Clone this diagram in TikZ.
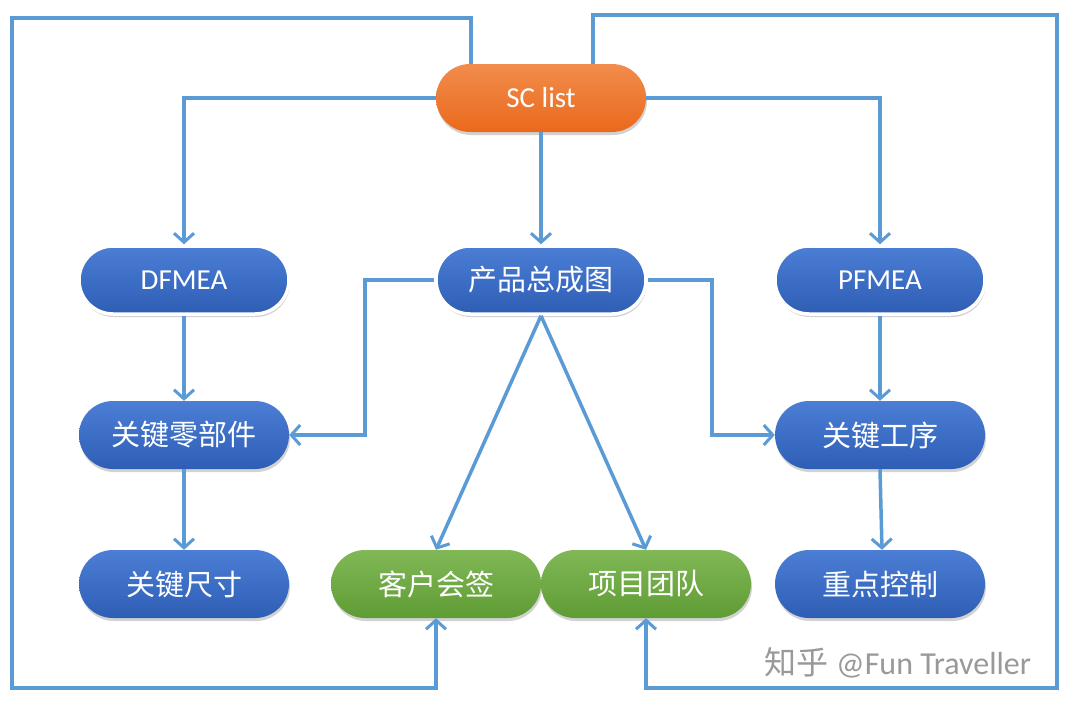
\documentclass[tikz,border=0pt]{standalone}
\usepackage{fontspec}
\setmainfont{Carlito}
\newfontfamily\cjk{Noto Sans CJK SC}
\usetikzlibrary{arrows.meta,shadows,calc}
\definecolor{lineblue}{RGB}{91,155,213}
\definecolor{blueT}{RGB}{76,126,214}
\definecolor{blueB}{RGB}{46,94,180}
\definecolor{orT}{RGB}{242,140,76}
\definecolor{orB}{RGB}{234,105,28}
\definecolor{grT}{RGB}{128,184,86}
\definecolor{grB}{RGB}{95,156,52}
\begin{document}
\begin{tikzpicture}[x=1pt,y=-1pt,
  pill/.style={rounded corners=34pt, minimum width=210pt, minimum height=68pt,
    text=white, inner sep=0pt, font=\fontsize{29}{33}\selectfont,
    drop shadow={opacity=0.35,shadow xshift=1pt,shadow yshift=-3pt}},
  bluepill/.style={pill, top color=blueT, bottom color=blueB},
  glow/.style={draw=white, line width=3.5pt},
  orpill/.style={pill, top color=orT, bottom color=orB},
  grpill/.style={pill, top color=grT, bottom color=grB},
  conn/.style={draw=lineblue, line width=3.5pt},
  arr/.style={conn, -{Straight Barb[length=9pt,width=20pt,line width=3pt]}}
]
\path[use as bounding box] (0,0) rectangle (1074,710);
\fill[white] (0,0) rectangle (1074,710);

\node[orpill] (sc) at (541,98) {SC list};
\node[bluepill,glow] (dfmea) at (184,280) {DFMEA};
\node[bluepill,glow] (asm) at (541,280) {\cjk 产品总成图};
\node[bluepill,glow] (pfmea) at (880,280) {PFMEA};
\node[bluepill] (part) at (184,435) {\cjk 关键零部件};
\node[bluepill] (proc) at (880,435) {\cjk 关键工序};
\node[bluepill] (dim) at (184,584) {\cjk 关键尺寸};
\node[grpill] (cust) at (436,584) {\cjk 客户会签};
\node[grpill] (team) at (646,584) {\cjk 项目团队};
\node[bluepill] (ctrl) at (880,584) {\cjk 重点控制};

\coordinate (lt1) at (471,18);
\coordinate (lt2) at (12,18);
\coordinate (lt3) at (12,688);
\coordinate (lt4) at (436,688);
\coordinate (rt1) at (593,15);
\coordinate (rt2) at (1057,15);
\coordinate (rt3) at (1057,688);
\coordinate (rt4) at (646,688);

\draw[arr] (sc.west) -| (dfmea.north);
\draw[arr] (sc.south) -- (asm.north);
\draw[arr] (sc.east) -| (pfmea.north);
\draw[arr] (dfmea.south) -- (part.north);
\draw[arr] (part.south) -- (dim.north);
\draw[arr] (pfmea.south) -- (proc.north);
\draw[arr] (proc.south) -- ($(ctrl.north)+(2,0)$);
\draw[arr] (asm.west) -- (365,280) -- (365,435) -- (part.east);
\draw[arr] (asm.east) -- (712,280) -- (712,435) -- (proc.west);
\draw[arr] (asm.south) -- (cust.north);
\draw[arr] (asm.south) -- (team.north);
\draw[arr] (sc.north -| lt1) -- (lt1) -- (lt2) -- (lt3) -- (lt4) -- (cust.south);
\draw[arr] (sc.north -| rt1) -- (rt1) -- (rt2) -- (rt3) -- (rt4) -- (team.south);

\node[text=black!40, font=\fontsize{32}{36}\selectfont, anchor=center] (wm) at (898,663) {{\cjk 知乎} @Fun Traveller};
\end{tikzpicture}
\end{document}
